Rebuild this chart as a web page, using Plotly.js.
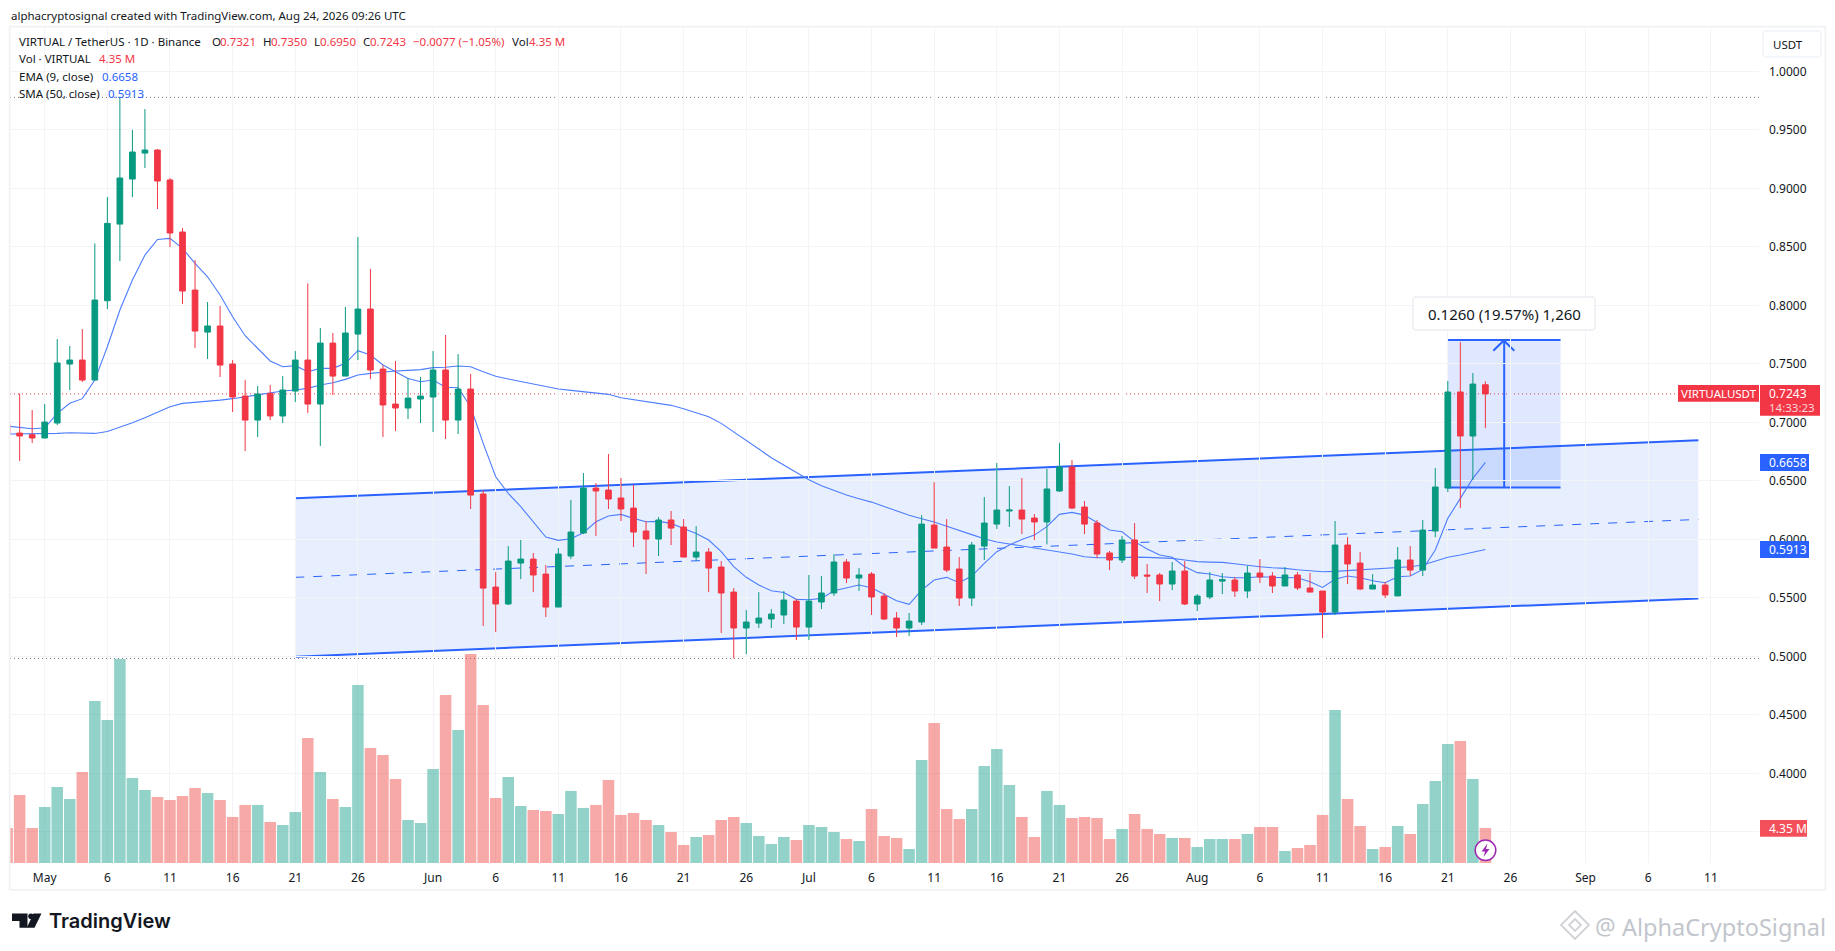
<!DOCTYPE html>
<html>
<head>
<meta charset="utf-8">
<script src="https://cdn.plot.ly/plotly-3.0.1.min.js"></script>
<style>
html, body { margin: 0; padding: 0; background: #fff; }
#chart { width: 1835px; height: 951px; }
</style>
</head>
<body>
<div id="chart"></div>
<script>
// daily candles, Apr 28 to Aug 24
const firstDay = '2026-04-28';

const open = [
  .699,.6908,.6894,
  .6866,.6994,.7498,.7532,.7361,.8039,.8694,.9079,.9301,.9327,.9071,.8626,.813,.7771,.7823,.7498,.7224,.7019,.7247,.7054,.7267,.7532,.7156,.7677,.7395,.7754,.7968,.7455,.7156,.7122,.7199,
  .7216,.7447,.7019,.7284,.6387,.5592,.5447,.5797,.5831,.5703,.5421,.5857,.6054,.6438,.6421,.6353,.6267,.6071,.6002,.6165,.6105,.5848,.5891,.5763,.5549,.5242,.5284,.5319,.5353,.5472,
  .525,.5464,.5541,.5806,.5669,.5703,.5515,.5327,.5242,.5293,.6122,.5934,.5746,.5498,.5942,.613,.6242,.625,.6182,.6148,.6413,.6618,.6276,.6139,.5883,.5823,.5994,.5695,.5695,.5618,.5729,
  .5447,.5507,.5643,.5652,.5558,.5712,.5686,.5601,.5695,.5584,.5558,.5378,.5951,.5797,.5575,.5609,.5516,.5823,.5737,.6071,.6438,.7259,.6883,.7321
];
const high = [
  .699,.7247,.7105,
  .7156,.7712,.7652,.7797,.8529,.8925,.9783,.9498,.9677,.9335,.9088,.866,.8387,.8028,.7994,.7532,.7361,.731,.7319,.7395,.7609,.8187,.7806,.7763,.7985,.8583,.831,.7489,.7524,.7378,.7387,
  .7609,.7746,.7583,.7413,.6421,.572,.5942,.5994,.5883,.578,.5925,.6336,.6566,.6481,.6729,.6524,.6464,.6156,.619,.6242,.6173,.6113,.5925,.5814,.5583,.5395,.5549,.5404,.5558,.5489,
  .5695,.5686,.5874,.5831,.5754,.572,.5541,.5378,.537,.6207,.6489,.6173,.5848,.5977,.6361,.6652,.6455,.6524,.6216,.6601,.6823,.6677,.6327,.6165,.59,.6028,.6139,.5789,.5712,.5806,.5814,
  .5532,.572,.5712,.5678,.5772,.5831,.572,.5763,.572,.5712,.5558,.6156,.6019,.5891,.5703,.5635,.5934,.5942,.6165,.6609,.7353,.7686,.7421,.735
];
const low = [
  .69,.6669,.6823,
  .6866,.6977,.7276,.7344,.7361,.7968,.8378,.8925,.9173,.8823,.8498,.8011,.7635,.7541,.7387,.7088,.6754,.6874,.7019,.6994,.7173,.7079,.6797,.7233,.7395,.7532,.737,.6874,.6925,.7028,.6994,
  .6917,.6857,.69,.6259,.5259,.5207,.5438,.566,.5549,.5336,.5421,.5831,.6045,.6028,.6259,.6156,.5934,.5703,.5857,.5951,.5848,.5814,.5549,.5199,.4982,.5019,.5242,.5242,.5276,.5139,
  .5139,.5404,.5515,.5626,.5558,.5353,.531,.5165,.5173,.5267,.5925,.572,.543,.543,.5823,.6088,.6105,.6045,.5994,.5957,.6404,.6259,.6045,.584,.5737,.5797,.566,.5541,.5472,.5566,.5438,
  .5387,.5489,.5532,.5507,.5498,.5626,.5541,.5601,.5566,.5549,.5156,.5353,.5618,.5566,.5575,.5498,.5516,.5686,.5686,.6019,.6404,.6267,.6507,.695
];
const close = [
  .69,.6883,.6866,
  .7002,.7507,.7532,.7361,.8045,.87,.9088,.931,.9327,.9062,.8618,.8122,.778,.7823,.7489,.7216,.7019,.7242,.7054,.7276,.7532,.7156,.7677,.7395,.7763,.7968,.7447,.7148,.7122,.7207,.7224,
  .7447,.7019,.7284,.6378,.5583,.5447,.5814,.5831,.5695,.5421,.5874,.6062,.6438,.6413,.6344,.6259,.6062,.6002,.6165,.6096,.5848,.5891,.5754,.5541,.5242,.5293,.5327,.5361,.5481,.525,
  .5472,.5541,.5806,.5669,.5695,.5507,.5319,.5242,.5301,.613,.5925,.5737,.5498,.5951,.6139,.625,.625,.6173,.6148,.643,.6618,.6267,.613,.5874,.5823,.5994,.5686,.5686,.5618,.5729,.5447,
  .5515,.5652,.5655,.5558,.5712,.5678,.5601,.5695,.5584,.5549,.5378,.5951,.5789,.5575,.5609,.5524,.5823,.5737,.6079,.6447,.7259,.6883,.7327,.7243
];
// millions
const volume = [
  4.35,8.45,4.35,
  6.96,9.44,7.95,11.31,20.13,17.77,25.35,10.56,9.07,8.2,7.83,8.33,9.32,8.7,7.83,5.72,7.21,7.21,5.1,4.72,6.34,15.53,11.31,7.95,6.96,22.12,14.29,13.42,10.44,5.34,4.97,
  11.68,20.88,16.53,25.97,19.64,8.08,10.69,7.08,6.59,6.46,6.09,8.95,6.84,7.21,10.31,5.97,6.21,5.34,4.72,3.85,2.24,3.23,3.48,5.34,5.72,4.97,3.36,2.36,3.23,2.86,
  4.72,4.47,3.85,2.98,2.73,6.71,3.36,3.11,1.74,12.8,17.4,6.71,5.47,6.71,12.05,14.17,9.69,5.72,3.23,8.95,7.21,5.59,5.72,5.59,2.98,4.23,6.09,4.23,3.6,3.11,3.11,
  1.99,2.98,2.98,2.98,3.6,4.47,4.47,1.49,1.86,2.24,5.97,19.01,7.95,4.6,1.74,1.99,4.6,3.6,7.33,10.19,14.79,15.16,10.44,4.35
];
const ema9 = [
  .6968,.6957,.6945,
  .6951,.7076,.7162,.7202,.7361,.7646,.796,.8216,.8429,.8563,.8572,.8486,.8358,.8244,.8088,.7902,.774,.7632,.7524,.7475,.7484,.7432,.7461,.7461,.7504,.7612,.7575,.749,.7432,.7375,.7347,
  .7361,.7299,.7296,.7133,.682,.6535,.6393,.6279,.615,.6019,.5991,.6005,.6056,.615,.6199,.6213,.6179,.615,.6153,.6136,.6093,.605,.5994,.5894,.5766,.5675,.5609,.5561,.5546,.5487,
  .5484,.5495,.5561,.5586,.5609,.5586,.5532,.5475,.5444,.5566,.5652,.5675,.5629,.5686,.5794,.5894,.5951,.5999,.6036,.6108,.6213,.623,.6207,.6142,.6079,.6065,.598,.5917,.5866,.5846,.5766,
  .5715,.5703,.568,.5672,.5672,.568,.5675,.5675,.5672,.5638,.5589,.5658,.5686,.5672,.5646,.5629,.568,.5686,.5743,.5908,.6179,.635,.6521,.6658
];
const sma50 = [
  .69,.69,.69,
  .69,.6905,.6911,.6908,.6905,.6922,.6957,.6997,.7039,.7085,.7133,.7162,.717,.7179,.719,.7202,.7219,.7233,.7247,.7267,.7276,.729,.7319,.7338,.7367,.7404,.7418,.743,.7438,.7444,.745,
  .7467,.747,.7481,.7475,.7432,.7393,.737,.735,.7327,.7304,.7284,.7273,.7262,.7253,.7239,.721,.7193,.7176,.7162,.7145,.7116,.7085,.7048,.6991,.692,.6848,.6772,.6697,.6632,.6572,
  .6509,.6458,.6415,.6378,.6347,.6318,.6281,.6244,.6205,.6176,.6148,.6111,.6073,.604,.6005,.5977,.596,.5943,.592,.5905,.5891,.5874,.5851,.5843,.5843,.5848,.5848,.5846,.5843,.5837,.5823,
  .5809,.5805,.5803,.5791,.5777,.5766,.5757,.5752,.574,.5732,.5723,.5726,.5732,.5737,.5743,.5749,.5754,.5766,.578,.5814,.5846,.5866,.5891,.5913
];

const priceTicks = [.35,.4,.45,.5,.55,.6,.65,.7,.75,.8,.85,.9,.95,1];
const priceLabels = ['','0.4000','0.4500','0.5000','0.5500','0.6000','0.6500','0.7000','0.7500','0.8000','0.8500','0.9000','0.9500','1.0000'];
const timeTicks = ['2026-05-01','2026-05-06','2026-05-11','2026-05-16','2026-05-21','2026-05-26','2026-06-01','2026-06-06','2026-06-11','2026-06-16','2026-06-21','2026-06-26','2026-07-01','2026-07-06','2026-07-11','2026-07-16','2026-07-21','2026-07-26','2026-08-01','2026-08-06','2026-08-11','2026-08-16','2026-08-21','2026-08-26','2026-09-01','2026-09-06','2026-09-11'];
const timeLabels = ['May','6','11','16','21','26','Jun','6','11','16','21','26','Jul','6','11','16','21','26','Aug','6','11','16','21','26','Sep','6','11'];

// drawings
const channelDays = ['2026-05-21','2026-09-10'];
const channelTop = [.635,.6846];
const channelMid = [.5675,.617];
const channelBottom = [.4997,.5495];
const measureDays = ['2026-08-21','2026-08-30'];
const measureArrowDay = '2026-08-25 12:00';
const measureLow = .6443;
const measureHigh = .7703;
const lastPrice = .7243;
const highMark = .9777;
const lowMark = .4982;

const UP = '#089981', DOWN = '#F23645', BLUE = '#2962FF', INK = '#131722';
const FONT = '"Noto Sans", Roboto, sans-serif';

const W = 1835, H = 951, L = 10, R = 1759, T = 27, B = 863;
const px = x => (x - L) / (R - L);
const py = y => 1 - (y - T) / (B - T);

const dates = open.map((_, i) => {
  const d = new Date(firstDay + 'T00:00:00Z');
  d.setUTCDate(d.getUTCDate() + i);
  return d.toISOString().slice(0, 10);
});

const traces = [
  {
    type: 'bar', x: dates, y: volume, yaxis: 'y', hoverinfo: 'skip',
    marker: { color: open.map((o, i) => close[i] >= o ? 'rgba(4,150,129,0.43)' : 'rgba(236,55,50,0.43)'), line: { width: 0 } }
  },
  { type: 'scatter', mode: 'lines', x: dates, y: sma50, yaxis: 'y2', zorder: 0, hoverinfo: 'skip', line: { color: '#4d7dff', width: 1.1 } },
  { type: 'scatter', mode: 'lines', x: dates, y: ema9, yaxis: 'y2', zorder: 0, hoverinfo: 'skip', line: { color: '#4d7dff', width: 1.1 } },
  {
    type: 'candlestick', x: dates, open: open, high: high, low: low, close: close, yaxis: 'y2', zorder: 1,
    whiskerwidth: 0, hoverinfo: 'skip',
    increasing: { line: { color: UP, width: 1 }, fillcolor: UP },
    decreasing: { line: { color: DOWN, width: 1 }, fillcolor: DOWN }
  }
];

const pathOf = (xs, ys) => xs.map((x, i) => (i ? 'L' : 'M') + x.replace(' ', '_') + ',' + ys[i]).join(' ');
const shapes = [];
const dataShape = (path, line, fill, layer) => shapes.push({
  type: 'path', xref: 'x', yref: 'y2', path: path, layer: layer || 'below',
  line: line || { width: 0 }, fillcolor: fill || 'rgba(0,0,0,0)'
});
const hLine = (y, x1, color) => shapes.push({
  type: 'line', xref: 'paper', yref: 'y2', x0: 0, x1: x1, y0: y, y1: y, layer: 'below',
  line: { color: color, width: 1, dash: '1px,3px' }
});
const pxPath = (d, fill, line, layer) => shapes.push({
  type: 'path', xref: 'paper', yref: 'paper', layer: layer || 'above',
  path: d.map(c => typeof c === 'string' ? c : px(c[0]) + ',' + py(c[1])).join(' '),
  fillcolor: fill || 'rgba(0,0,0,0)', line: line || { width: 0 }
});
const box = (x0, y0, x1, y1, fill, lineColor) => shapes.push({
  type: 'rect', xref: 'paper', yref: 'paper', x0: px(x0), x1: px(x1), y0: py(y0), y1: py(y1), layer: 'above',
  fillcolor: fill, line: lineColor ? { color: lineColor, width: 1 } : { width: 0 }
});

// parallel channel
dataShape(pathOf([channelDays[0], channelDays[1], channelDays[1], channelDays[0]],
  [channelTop[0], channelTop[1], channelBottom[1], channelBottom[0]]) + ' Z', null, 'rgba(21,101,245,0.1)');
dataShape(pathOf(channelDays, channelTop), { color: BLUE, width: 2 });
dataShape(pathOf(channelDays, channelBottom), { color: BLUE, width: 2 });
dataShape(pathOf(channelDays, channelMid), { color: BLUE, width: 1, dash: 'dash' });

// price range measure
dataShape(pathOf([measureDays[0], measureDays[1], measureDays[1], measureDays[0]],
  [measureHigh, measureHigh, measureLow, measureLow]) + ' Z', null, 'rgba(41,98,255,0.15)');
dataShape(pathOf(measureDays, [measureHigh, measureHigh]), { color: BLUE, width: 2 });
dataShape(pathOf(measureDays, [measureLow, measureLow]), { color: BLUE, width: 2 });
dataShape(pathOf([measureArrowDay, measureArrowDay], [measureLow, measureHigh]), { color: BLUE, width: 2 });
pxPath(['M', [1493.3, 350.7], 'L', [1503.8, 340.5], 'L', [1514.3, 350.7]], null, { color: BLUE, width: 2 }, 'below');

hLine(highMark, 1, '#787b86');
hLine(lowMark, 1, '#787b86');
hLine(lastPrice, px(1678), DOWN);

// outer frame
box(10, 27, 1825, 889.5, 'rgba(0,0,0,0)', '#f0f1f3');
box(9.3, 26.3, 1825.7, 890.2, 'rgba(0,0,0,0)', '#f0f1f3');

// price tags
box(1678, 385, 1759, 401.7, DOWN);
box(1760, 385, 1820, 415.7, DOWN);
box(1760, 454, 1809, 471, BLUE);
box(1760, 541, 1809, 558, BLUE);
box(1760, 820, 1807, 836.7, '#f4505c');

// usdt button
pxPath(['M', [1766, 31], 'L', [1818, 31], 'Q', [1821, 31], [1821, 34], 'L', [1821, 54], 'Q', [1821, 57], [1818, 57], 'L', [1766, 57], 'Q', [1763, 57], [1763, 54], 'L', [1763, 34], 'Q', [1763, 31], [1766, 31], 'Z'], '#fff', { color: '#f0f3fa', width: 1.5 });

// measure label
pxPath(['M', [1416, 297], 'L', [1592, 297], 'Q', [1595, 297], [1595, 300], 'L', [1595, 327], 'Q', [1595, 330], [1592, 330], 'L', [1416, 330], 'Q', [1413, 330], [1413, 327], 'L', [1413, 300], 'Q', [1413, 297], [1416, 297], 'Z'], '#fff', { color: '#eceef2', width: 1.5 });

// replay badge
shapes.push({ type: 'circle', xref: 'paper', yref: 'paper', x0: px(1475.2), x1: px(1495.8), y0: py(840), y1: py(860.6), layer: 'above', fillcolor: '#fff', line: { color: '#9c27b0', width: 1.5 } });
pxPath(['M', [1487.5, 843.5], 'L', [1481.5, 851.5], 'L', [1485, 851.5], 'L', [1483.5, 857], 'L', [1489.5, 849], 'L', [1486, 849], 'Z'], '#9c27b0');

// tradingview logo
pxPath(['M', [12, 913.5], 'L', [27.5, 913.5], 'L', [27.5, 927.7], 'L', [19.5, 927.7], 'L', [19.5, 921], 'L', [12, 921], 'Z'], INK);
shapes.push({ type: 'circle', xref: 'paper', yref: 'paper', x0: px(28.2), x1: px(33.8), y0: py(913.5), y1: py(919.1), layer: 'above', fillcolor: INK, line: { width: 0 } });
pxPath(['M', [33.5, 913.5], 'L', [41.5, 913.5], 'L', [34.5, 927.7], 'L', [26.8, 927.7], 'Z'], INK);

// watermark icon
const wm = { color: '#cfd2d7', width: 1.8 };
pxPath(['M', [1575, 911], 'L', [1589, 925], 'L', [1575, 939], 'L', [1561, 925], 'Z'], null, wm);
pxPath(['M', [1575, 919], 'L', [1581, 925], 'L', [1575, 931], 'L', [1569, 925], 'Z'], null, wm);

const annotations = [];
const note = (text, x, y, o) => {
  o = o || {};
  annotations.push({
    text: text, xref: 'paper', yref: 'paper', x: px(x), y: py(y), showarrow: false,
    xanchor: o.anchor || 'left', yanchor: 'middle', borderpad: 0,
    font: { family: o.family || FONT, size: o.size || 11.5, color: o.color || INK, weight: o.weight }
  });
};

note('alphacryptosignal created with TradingView.com, Aug 24, 2026 09:26 UTC', 10, 15);
note('VIRTUAL / TetherUS · 1D · Binance', 18, 42);
[['O', 211, '0.7321', 219], ['H', 262, '0.7350', 270], ['L', 313, '0.6950', 319], ['C', 362, '0.7243', 369]].forEach(p => {
  note(p[0], p[1], 42);
  note(p[2], p[3], 42, { color: DOWN });
});
note('−0.0077 (−1.05%)', 412, 42, { color: DOWN });
note('Vol', 511, 42);
note('4.35 M', 528, 42, { color: DOWN });
note('Vol · VIRTUAL', 18, 59);
note('4.35 M', 98, 59, { color: DOWN });
note('EMA (9, close)', 18, 76);
note('0.6658', 101, 76, { color: BLUE });
note('SMA (50, close)', 18, 93);
note('0.5913', 107, 93, { color: BLUE });

note('USDT', 1772, 44);
note('0.1260 (19.57%) 1,260', 1504, 313.5, { anchor: 'center', size: 15 });
note('VIRTUALUSDT', 1718.5, 393.5, { anchor: 'center', color: '#fff', size: 11.5 });
note('0.7243', 1768, 393.5, { color: '#fff', size: 12 });
note('14:33:23', 1768, 407.5, { color: '#fbd7da', size: 11.5 });
note('0.6658', 1768, 462.5, { color: '#fff', size: 12 });
note('0.5913', 1768, 549.5, { color: '#fff', size: 12 });
note('4.35 M', 1768, 828.5, { color: '#fff', size: 12 });
note('TradingView', 48, 921, { family: 'Inter, sans-serif', size: 20, weight: 600 });
note('@', 1594, 926, { size: 23, color: '#c2c6cc' });
note('AlphaCryptoSignal', 1621, 927, { size: 23.5, color: '#c2c6cc' });

const layout = {
  width: W, height: H,
  margin: { l: L, r: W - R, t: T, b: H - B, pad: 0, autoexpand: false },
  paper_bgcolor: '#fff', plot_bgcolor: '#fff',
  showlegend: false, bargap: 0.08, boxgap: 0.35,
  font: { family: FONT, size: 12, color: INK },
  xaxis: {
    type: 'date', range: ['2026-04-28 05:30', '2026-09-14 20:10'], rangeslider: { visible: false },
    tickmode: 'array', tickvals: timeTicks, ticktext: timeLabels, tickangle: 0,
    showgrid: true, gridcolor: '#f3f4f6', gridwidth: 1, zeroline: false, showline: false,
    ticks: '', ticklabelstandoff: 6, tickfont: { family: FONT, size: 12, color: INK }
  },
  yaxis: { range: [0, 103.85], visible: false, showgrid: false, zeroline: false, fixedrange: true },
  yaxis2: {
    overlaying: 'y', side: 'right', range: [.32335, 1.03786], tickmode: 'array',
    tickvals: priceTicks, ticktext: priceLabels,
    showgrid: true, gridcolor: '#f3f4f6', gridwidth: 1, zeroline: false, showline: false,
    ticks: '', ticklabelstandoff: 9, tickfont: { family: FONT, size: 12, color: INK }
  },
  shapes: shapes,
  annotations: annotations
};

Plotly.newPlot('chart', traces, layout, { displayModeBar: false, staticPlot: true });
</script>
</body>
</html>
